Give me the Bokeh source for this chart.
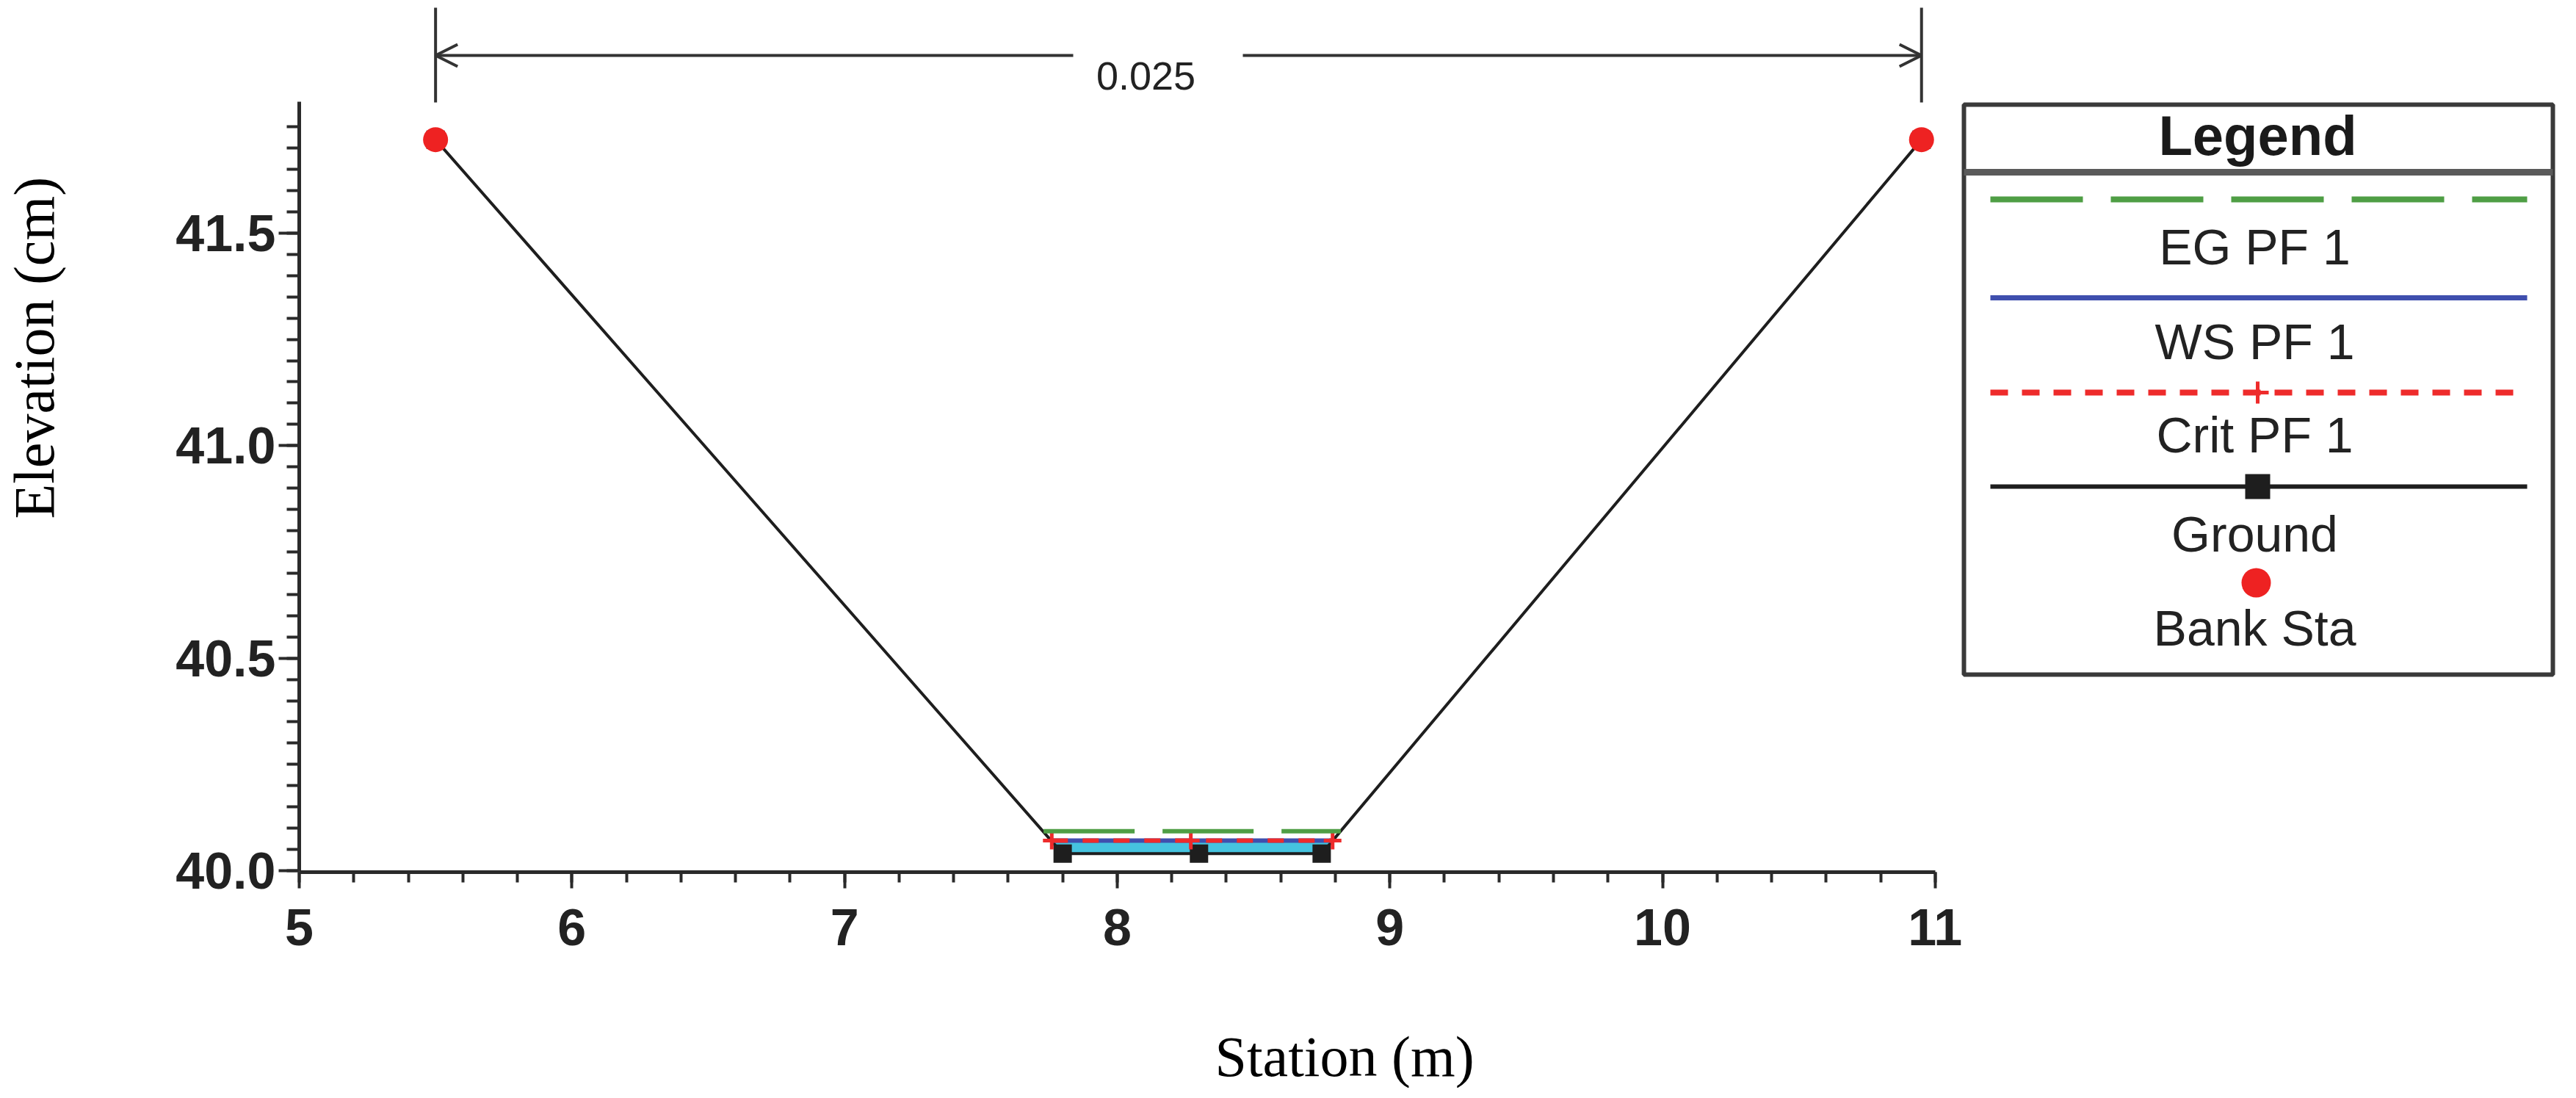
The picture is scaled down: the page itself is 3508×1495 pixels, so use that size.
import numpy as np
from bokeh.plotting import figure
from bokeh.models import FixedTicker, Arrow, OpenHead, Range1d, Title, CustomJSTickFormatter
from bokeh.core.properties import value
from bokeh.embed import file_html
from bokeh.resources import INLINE

# ---------------- data ----------------
ground_station = [5.5, 7.8, 8.3, 8.75, 10.95]
ground_elev = [41.72, 40.04, 40.04, 40.04, 41.72]
bank_station = [5.5, 10.95]
bank_elev = [41.72, 41.72]
ws_station = [7.76, 8.79]
ws_elev = [40.071, 40.071]
crit_station = [7.76, 8.27, 8.79]
crit_elev = [40.071, 40.071, 40.071]
eg_station = [7.73, 8.82]
eg_elev = [40.093, 40.093]
mannings_n = [0.025]
x_ticks = [5, 6, 7, 8, 9, 10, 11]
y_ticks = [40.0, 40.5, 41.0, 41.5]
legend_labels = ["EG PF 1", "WS PF 1", "Crit PF 1", "Ground", "Bank Sta"]
x_label = "Station (m)"
y_label = "Elevation (cm)"

# ---------------- layout ----------------
W, H = 3492, 1479
FL, FB = 405, 292
FW, FH = 3080, 1187
XPX, YPX = 371.3, 578.7
x0 = 5.0
x1 = x0 + FW / XPX
y0 = 40.0 - 2 / YPX
y1 = y0 + FH / YPX


def dx(px):
    return x0 + (px - 8 - FL) / XPX


def dy(py):
    return y0 + (8 + FH - py) / YPX


SANS = value("Liberation Sans")
SERIF = "Liberation Serif"
TXT = "#222222"

p = figure(frame_width=FW, frame_height=FH,
           min_border_left=FL, min_border_right=W - FL - FW,
           min_border_top=0, min_border_bottom=FB,
           x_range=Range1d(x0, x1), y_range=Range1d(y0, y1),
           output_backend="svg", toolbar_location=None)
p.grid.visible = False
p.outline_line_color = None
p.background_fill_color = "white"
p.border_fill_color = "white"

# axes
xa = p.xaxis[0]
xa.bounds = (x_ticks[0], x_ticks[-1])
xa.ticker = FixedTicker(ticks=x_ticks,
                        minor_ticks=[round(x_ticks[0] + 0.2 * i, 2) for i in range(31)])
xa.axis_line_width = 5
xa.axis_line_color = "#2a2a2a"
xa.major_tick_line_width = 4
xa.major_tick_line_color = "#2a2a2a"
xa.minor_tick_line_width = 4
xa.minor_tick_line_color = "#2a2a2a"
xa.major_tick_out = 22
xa.major_tick_in = 0
xa.minor_tick_out = 14
xa.minor_tick_in = 0
xa.major_label_text_font = "Liberation Sans"
xa.major_label_text_font_size = "70px"
xa.major_label_text_font_style = "bold"
xa.major_label_text_color = TXT
xa.major_label_standoff = 28

ya = p.yaxis[0]
ya.bounds = (40.0, 41.81)
ya.ticker = FixedTicker(ticks=y_ticks,
                        minor_ticks=[round(40.0 + 0.05 * i, 3) for i in range(36)])
ya.formatter = CustomJSTickFormatter(code="return tick.toFixed(1);")
ya.axis_line_width = 5
ya.axis_line_color = "#2a2a2a"
ya.major_tick_line_width = 4
ya.major_tick_line_color = "#2a2a2a"
ya.minor_tick_line_width = 4
ya.minor_tick_line_color = "#2a2a2a"
ya.major_tick_out = 28
ya.major_tick_in = 0
ya.minor_tick_out = 17
ya.minor_tick_in = 0
ya.major_label_text_font = "Liberation Sans"
ya.major_label_text_font_size = "70px"
ya.major_label_text_font_style = "bold"
ya.major_label_text_color = TXT
ya.major_label_standoff = 4

# axis titles: a blank spacer panel first, then the real title, so that the
# titles sit where the reference has them
p.add_layout(Title(text=" ", text_font_size="10px", standoff=90), "below")
p.add_layout(Title(text=x_label, align="left", offset=1247, standoff=0,
                   text_font=SERIF, text_font_size="78px", text_font_style="normal",
                   text_color="black"), "below")
p.add_layout(Title(text=" ", text_font_size="10px", standoff=134), "left")
p.add_layout(Title(text=y_label, align="left", offset=481, standoff=0,
                   text_font=SERIF, text_font_size="78px", text_font_style="normal",
                   text_color="black"), "left")

# ---------------- channel ----------------
inner = [(s, e) for s, e in zip(ground_station, ground_elev) if ws_station[0] < s < ws_station[1]]
water_x = [ws_station[0]] + [s for s, _ in inner] + [ws_station[1]]
water_y = [ws_elev[0]] + [e for _, e in inner] + [ws_elev[1]]
p.patch(water_x, water_y, fill_color="#45c3df", line_color=None)

p.line(ground_station, ground_elev, line_color="#1e1e1e", line_width=4)
p.scatter(ground_station, ground_elev, marker="square", size=25,
          fill_color="#1e1e1e", line_color=None)

p.line(ws_station, ws_elev, line_color="#3f4fae", line_width=6)
p.line(crit_station, crit_elev, line_color="#ee2b2b", line_width=6, line_dash="22 20")
p.scatter(crit_station, crit_elev, marker="cross", size=24,
          line_color="#ee2b2b", line_width=5)
p.line(eg_station, eg_elev, line_color="#4f9e45", line_width=6, line_dash="124 38")

p.scatter(bank_station, bank_elev, marker="circle", size=34,
          fill_color="#ee2222", line_color=None)

# ---------------- Manning's n dimension line ----------------
dim_y = dy(83)
bar_lo, bar_hi = dy(147), dy(18)
n_x = dx(1566)
gap_l, gap_r = dx(1467), dx(1698)
p.segment(x0=bank_station, y0=[bar_lo] * 2, x1=bank_station, y1=[bar_hi] * 2,
          line_color="#333333", line_width=4)
p.add_layout(Arrow(x_start=gap_l, y_start=dim_y, x_end=bank_station[0], y_end=dim_y,
                   line_color="#333333", line_width=4,
                   end=OpenHead(size=30, line_width=4, line_color="#333333")))
p.add_layout(Arrow(x_start=gap_r, y_start=dim_y, x_end=bank_station[1], y_end=dim_y,
                   line_color="#333333", line_width=4,
                   end=OpenHead(size=30, line_width=4, line_color="#333333")))
p.text(x=[n_x], y=[dy(111)], text=[f"{mannings_n[0]:.3f}"], text_font=SANS,
       text_font_size="54px", text_color=TXT, text_align="center",
       text_baseline="middle")

# ---------------- legend ----------------
lx0, lx1 = dx(2680), dx(3482)
p.quad(left=[lx0], right=[lx1], top=[dy(150)], bottom=[dy(926)],
       fill_color="white", line_color="#3a3a3a", line_width=6)
p.segment(x0=[lx0], y0=[dy(242)], x1=[lx1], y1=[dy(242)],
          line_color="#5a5a5a", line_width=9)
p.text(x=[dx(3080)], y=[dy(192)], text=["Legend"], text_font=SANS,
       text_font_style="bold", text_font_size="76px", text_color="#1a1a1a",
       text_align="center", text_baseline="middle")

sx0, sx1, smid = dx(2716), dx(3447), dx(3080)
p.line([sx0, sx1], [dy(279)] * 2, line_color="#4f9e45", line_width=8, line_dash="126 38")
p.line([sx0, sx1], [dy(413)] * 2, line_color="#3f4fae", line_width=7)
p.line([sx0, sx1], [dy(542)] * 2, line_color="#ee2b2b", line_width=8, line_dash="24 19")
p.scatter([smid], [dy(542)], marker="cross", size=30, line_color="#ee2b2b", line_width=5)
p.line([sx0, sx1], [dy(670)] * 2, line_color="#1e1e1e", line_width=6)
p.scatter([smid], [dy(670)], marker="square", size=34, fill_color="#1e1e1e", line_color=None)
p.scatter([dx(3078)], [dy(801)], marker="circle", size=40, fill_color="#ee2222", line_color=None)

label_y = [dy(343), dy(472), dy(599), dy(734), dy(862)]
p.text(x=[dx(3076)] * len(legend_labels), y=label_y, text=legend_labels,
       text_font=SANS, text_font_size="68px", text_color=TXT,
       text_align="center", text_baseline="middle")

open("out.html", "w").write(file_html(p, INLINE))
